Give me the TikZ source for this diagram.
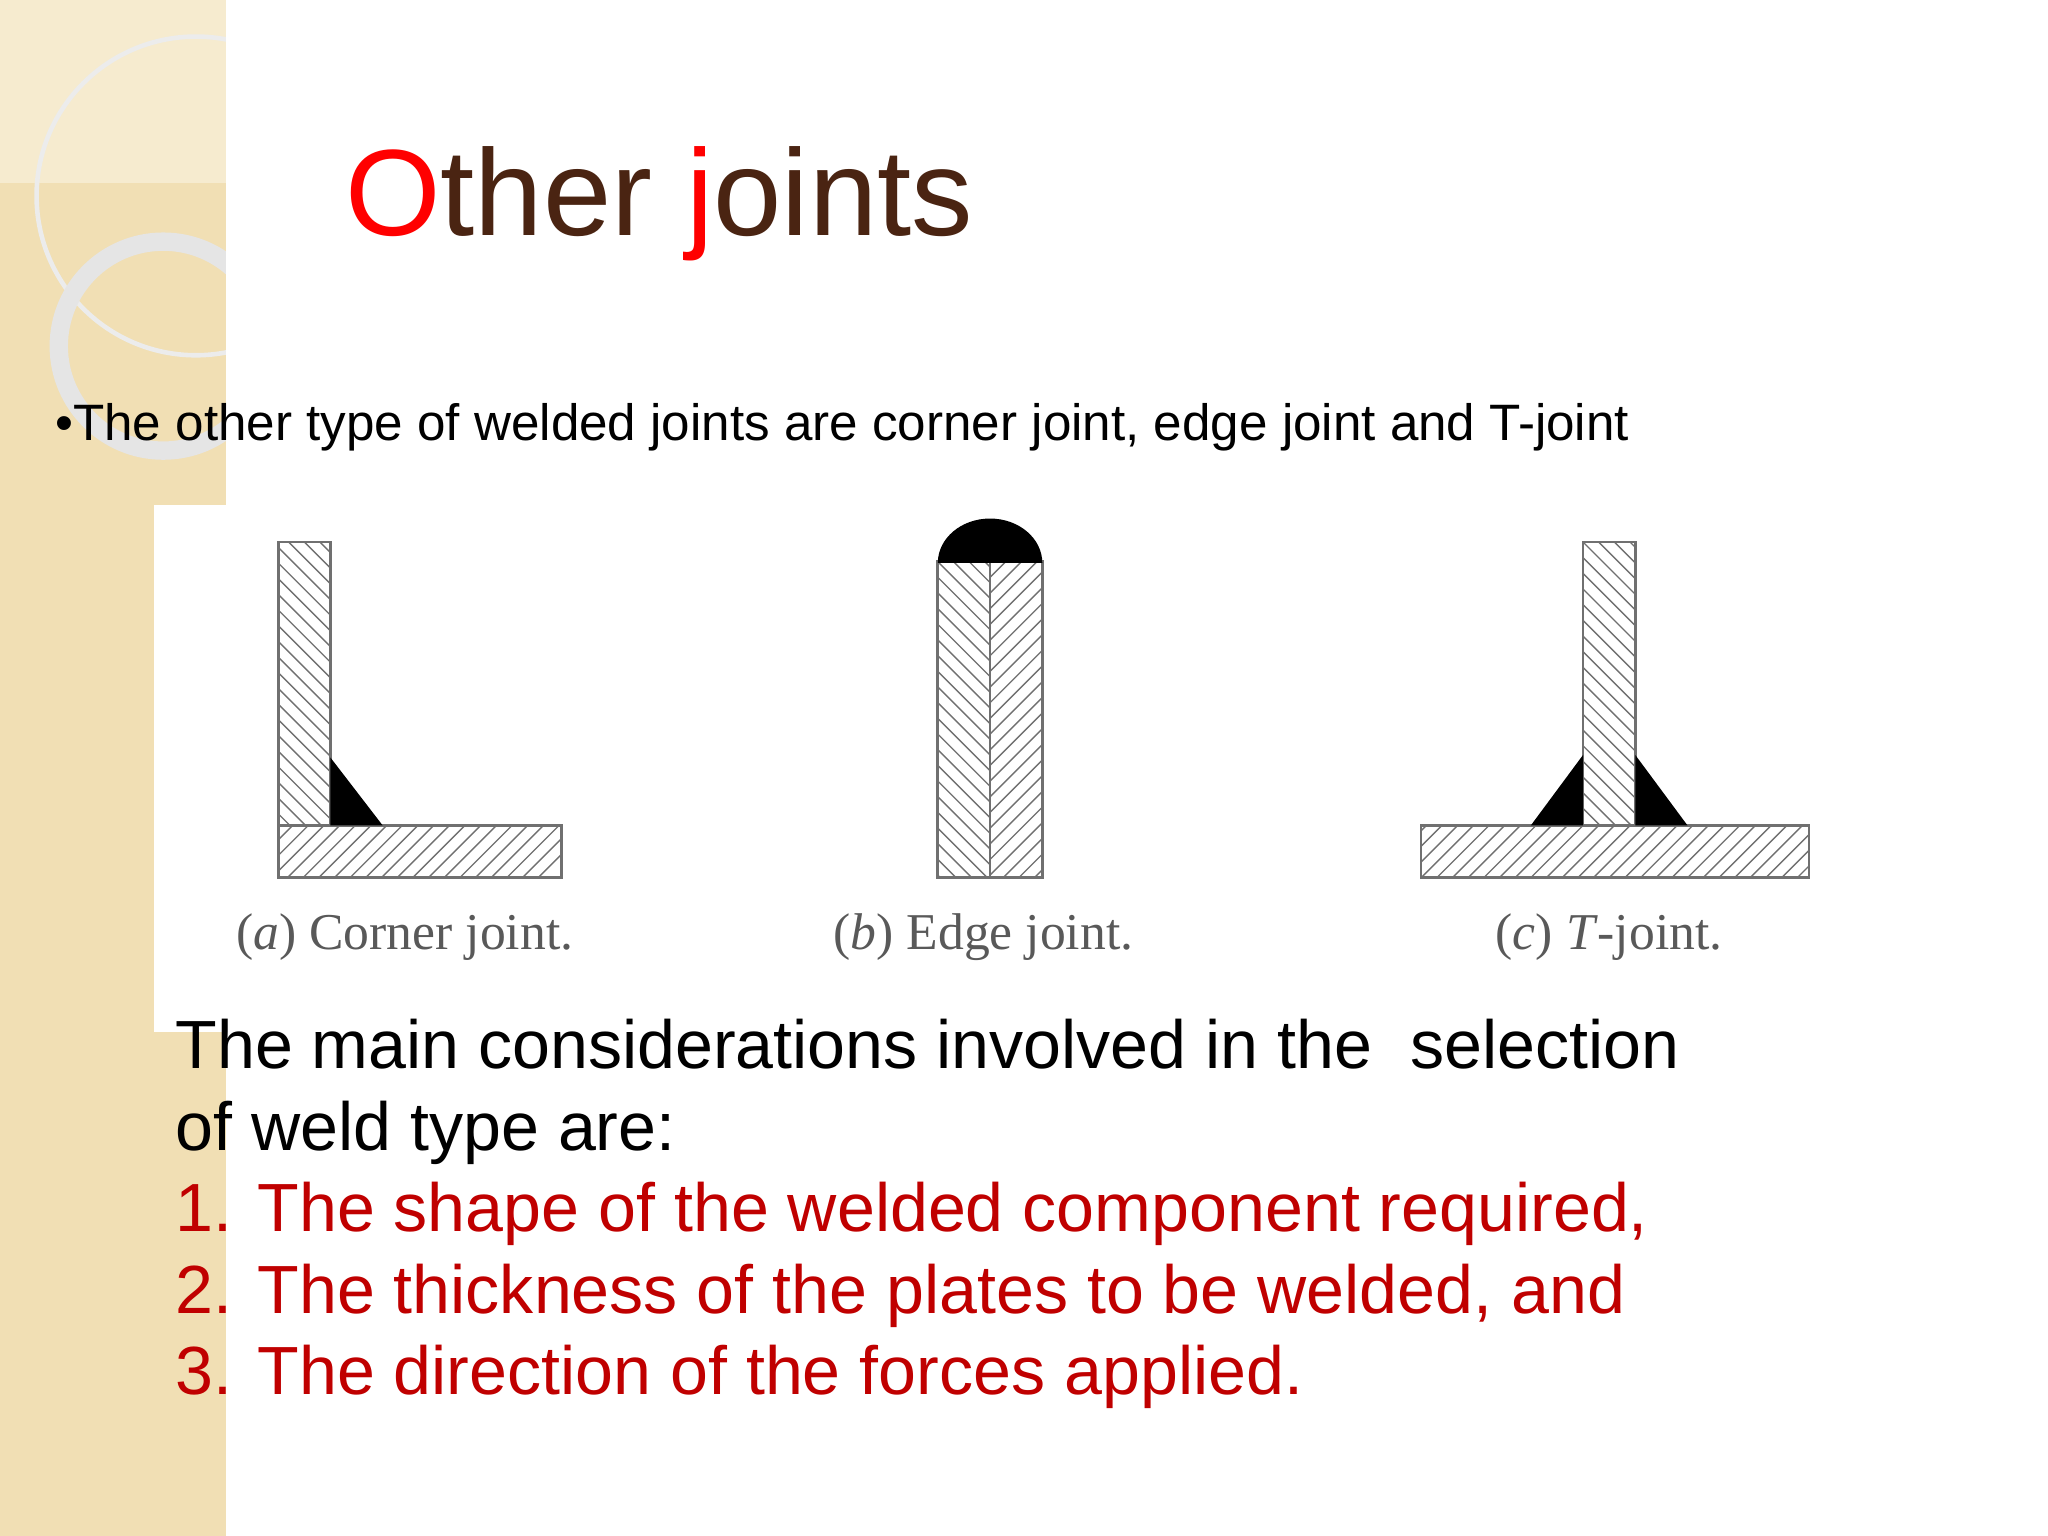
\documentclass[tikz,border=0pt]{standalone}
\usepackage{fontspec}
\setmainfont{Liberation Sans}
\newfontfamily\serifx{Liberation Serif}
\definecolor{beige}{HTML}{F1DFB4}
\definecolor{beigel}{HTML}{F6EBCF}
\definecolor{brownt}{HTML}{4A2412}
\definecolor{redt}{HTML}{C00000}
\definecolor{hatch}{HTML}{707070}
\begin{document}
\begin{tikzpicture}[x=0.02cm,y=-0.02cm,
  plate/.style={draw=hatch,line width=1.2pt},
  hl/.style={draw=hatch,line width=0.6pt},
  weld/.style={fill=black},
  captxt/.style={font=\serifx\fontsize{22.5}{26}\selectfont,text=black!65,anchor=base}]
\useasboundingbox (0,0) rectangle (1568,1176);
\fill[white] (0,0) rectangle (1568,1176);
\fill[beige] (0,0) rectangle (173,1176);
\fill[beigel] (0,0) rectangle (173,140);
\begin{scope}
\clip (0,0) rectangle (173,1176);
\draw[white!85!gray,line width=2pt] (150,150) circle (122);
\draw[white!80!gray,line width=8pt] (125,265) circle (80);
\end{scope}
\fill[white] (118,387) rectangle (173,790);
% title
\node[anchor=base west,inner sep=0,font=\fontsize{53.5}{60}\selectfont,text=brownt] (title) at (264,180)
  {\textcolor{red}{O}ther \textcolor{red}{j}oints};
\node[anchor=base west,inner sep=0,font=\fontsize{22.3}{26}\selectfont] (bul) at (42,337)
  {•The other type of welded joints are corner joint, edge joint and T-joint};
% corner joint
\begin{scope}
\clip (213,415) rectangle (253,632);
\foreach \i in {-260,-248,...,260} \draw[hl] (213,415+\i+0) -- (253,415+\i+40);
\end{scope}
\draw[plate] (213,632) -- (213,415) -- (253,415) -- (253,632);
\begin{scope}
\clip (213,632) rectangle (430,672);
\foreach \i in {200,212,...,460} \draw[hl] (\i,632) -- (\i-40,672);
\end{scope}
\draw[plate] (213,632) rectangle (430,672);
\fill[weld] (253,580) -- (253,632) -- (293,632) -- cycle;
% edge joint
\begin{scope}
\clip (718,430) rectangle (758,672);
\foreach \i in {-60,-48,...,260} \draw[hl] (718,430+\i) -- (758,430+\i+40);
\end{scope}
\begin{scope}
\clip (758,430) rectangle (798,672);
\foreach \i in {0,12,...,300} \draw[hl] (758,430+\i) -- (798,430+\i-40);
\end{scope}
\draw[plate] (718,430) rectangle (758,672);
\draw[plate] (758,430) rectangle (798,672);
\fill[weld] (718,431) arc[start angle=180,end angle=360,x radius=40,y radius=34] -- cycle;
% T joint
\begin{scope}
\clip (1212,415) rectangle (1252,632);
\foreach \i in {-60,-48,...,260} \draw[hl] (1212,415+\i) -- (1252,415+\i+40);
\end{scope}
\draw[plate] (1212,632) -- (1212,415) -- (1252,415) -- (1252,632);
\begin{scope}
\clip (1088,632) rectangle (1385,672);
\foreach \i in {1080,1092,...,1430} \draw[hl] (\i,632) -- (\i-40,672);
\end{scope}
\draw[plate] (1088,632) rectangle (1385,672);
\fill[weld] (1212,578) -- (1212,632) -- (1172,632) -- cycle;
\fill[weld] (1252,578) -- (1252,632) -- (1292,632) -- cycle;
% captions
\node[captxt] (ca) at (310,727) {(\textit{a}) Corner joint.};
\node[captxt] (cb) at (753,727) {(\textit{b}) Edge joint.};
\node[captxt] (cc) at (1232,727) {(\textit{c}) \textit{T}-joint.};
% main text
\node[anchor=north west,inner sep=0,align=left,font=\fontsize{29.7}{35.5}\selectfont] (body) at (134,780)
  {The main considerations involved in the\ \ selection\\
   of weld type are:\\
   \textcolor{redt}{1. The shape of the welded component required,}\\
   \textcolor{redt}{2. The thickness of the plates to be welded, and}\\
   \textcolor{redt}{3. The direction of the forces applied.}};
\end{tikzpicture}
\end{document}
